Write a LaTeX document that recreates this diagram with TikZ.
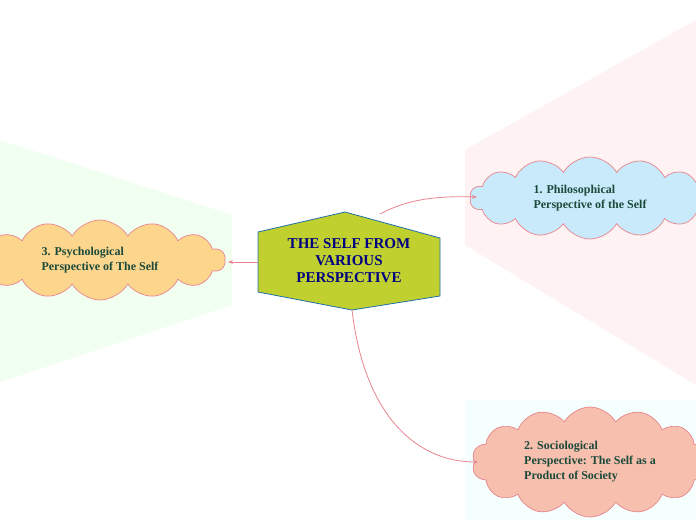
\documentclass[tikz,border=0pt]{standalone}
\usepackage{fontspec}
\setmainfont{Liberation Serif}
\usetikzlibrary{shapes.symbols,arrows.meta}
\definecolor{lnk}{HTML}{E8848E}
\definecolor{txt}{HTML}{1B4A3A}
\tikzset{
 cl/.style={cloud, cloud puffs=14, cloud puff arc=120, cloud ignores aspect, draw=lnk, line width=0.7pt, font=\bfseries\fontsize{12}{15}\selectfont, text=txt, align=left, inner sep=0pt},
 con/.style={draw=lnk, line width=0.8pt, -{Stealth[length=5pt]}}
}
\begin{document}
\begin{tikzpicture}[x=1pt,y=-1pt]
\useasboundingbox (0,0) rectangle (696,520);
\fill[white] (0,0) rectangle (696,520);
% backgrounds
\fill[red!5] (465,150) -- (696,20) -- (696,385) -- (465,245) -- cycle;
\fill[green!6] (0,140) -- (232,215) -- (232,305) -- (0,382) -- cycle;
\fill[green!5!cyan!4] (465,400) rectangle (696,520);
% center
\filldraw[fill={rgb,255:red,192;green,209;blue,47}, draw={rgb,255:red,31;green,111;blue,168}, line width=0.8pt]
 (258,232) -- (345,212) -- (440,238) -- (440,296) -- (352,310) -- (258,292) -- cycle;
\node[text=blue!50!black, font=\bfseries\fontsize{15}{17}\selectfont, align=center] (ct) at (349,261) {THE SELF FROM\\VARIOUS\\PERSPECTIVE};
\coordinate (ctop) at (380,214);
\coordinate (cleft) at (258,262);
\coordinate (cbot) at (352,310);
% clouds
\node[cl, fill={rgb,255:red,200;green,234;blue,251}, minimum width=240pt, minimum height=82pt] (p1) at (590,198) {1. Philosophical\\Perspective of the Self};
\node[cl, fill={rgb,255:red,247;green,191;blue,174}, minimum width=236pt, minimum height=110pt] (p2) at (590,462) {2. Sociological\\Perspective: The Self as a\\Product of Society};
\node[cl, fill={rgb,255:red,253;green,214;blue,142}, minimum width=250pt, minimum height=80pt] (p3) at (100,260) {3. Psychological\\Perspective of The Self};
% connectors
\draw[con] (ctop) .. controls (410,198) and (440,196) .. (477,197);
\draw[con] (cleft) -- (228,262);
\draw[con] (cbot) .. controls (365,420) and (420,462) .. (478,462);
\end{tikzpicture}
\end{document}
